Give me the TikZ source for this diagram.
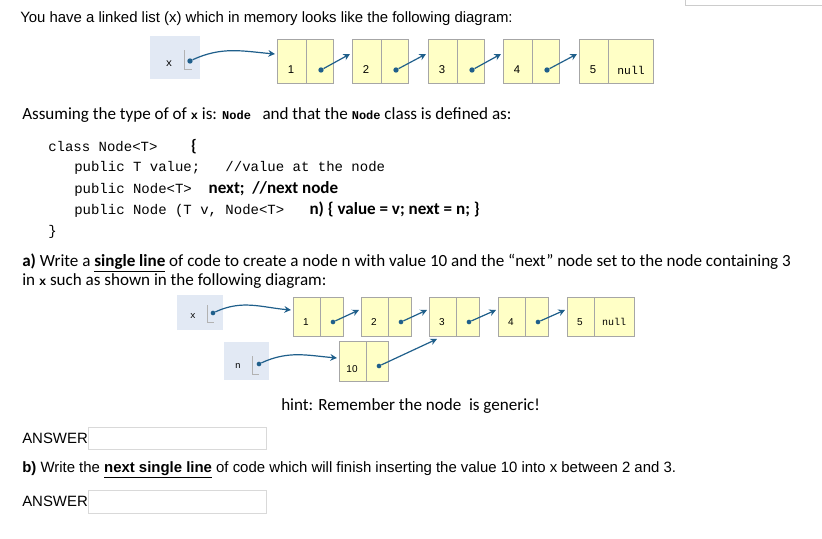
\documentclass[tikz,border=0pt]{standalone}
\usepackage{fontspec}
\setmainfont{Liberation Sans}
\newfontfamily\carl{Carlito}
\setmonofont{Liberation Mono}
\usetikzlibrary{arrows.meta}
\definecolor{cellY}{HTML}{FFFFC6}
\definecolor{varB}{HTML}{E2E9F4}
\definecolor{ptrB}{HTML}{1F5F8B}
\tikzset{
  txt/.style={anchor=west,inner sep=0pt,font=\fontsize{11.2}{13}\selectfont},
  ctxt/.style={anchor=west,inner sep=0pt,font=\carl\fontsize{12.8}{14}\selectfont},
  code/.style={anchor=west,inner sep=0pt,font=\ttfamily\fontsize{10.5}{12}\selectfont},
  cell/.style={fill=cellY,draw=gray!70,line width=0.5pt},
  varbox/.style={fill=varB,draw=none},
  ptr/.style={draw=ptrB,line width=0.9pt,-{Stealth[length=5pt,width=5pt]}},
  dotc/.style={circle,fill=ptrB,inner sep=0pt,minimum size=4pt},
  ansbox/.style={draw=gray!30,fill=white},
}
\begin{document}
\begin{tikzpicture}[x=0.75pt,y=-0.75pt]
\useasboundingbox (0,0) rectangle (822,539);
\fill[white] (0,0) rectangle (822,539);
\draw[gray!40] (685,-2) rectangle (822,5);
\node[txt] (t1) at (20,19) {You have a linked list (x) which in memory looks like the following diagram:};
% top diagram
\fill[varbox] (150,36) rectangle (200,79);
\node[font=\ttfamily\footnotesize] (xl) at (169,64) {x};
\draw[gray!60] (184,50) -- (184,69) -- (192,69);
\node[dotc] (xd) at (190,61) {};
\foreach \i/\x/\v in {1/277/1,2/352/2,3/428/3,4/503/4}{
  \draw[cell] (\x,39) rectangle (\x+56,83);
  \draw[gray!70] (\x+29,39) -- (\x+29,83);
  \node[font=\fontsize{8.5}{9}\selectfont] (v\i) at (\x+14,70) {\v};
  \node[dotc] (d\i) at (\x+44,70) {};
}
\draw[cell] (579,39) rectangle (653,83);
\draw[gray!70] (608,39) -- (608,83);
\node[font=\fontsize{8.5}{9}\selectfont] (v5) at (593,70) {5};
\node[font=\ttfamily\fontsize{8.5}{9}\selectfont] (n5) at (631,70) {null};
\coordinate (h1) at (275,54);
\coordinate (h2) at (350,54);
\coordinate (h3) at (426,54);
\coordinate (h4) at (501,54);
\coordinate (h5) at (577,54);
\draw[ptr] (xd) to[out=25,in=175] (h1);
\draw[ptr] (d1) -- (h2);
\draw[ptr] (d2) -- (h3);
\draw[ptr] (d3) -- (h4);
\draw[ptr] (d4) -- (h5);
% text
\node[ctxt] (t2) at (22,115) {Assuming the type of of \textbf{\ttfamily\small x} is: \textbf{\ttfamily\small Node}\ \ \ and that the \textbf{\ttfamily\small Node} class is defined as:};
\node[code] (c1) at (48,147) {class Node<T>\ \ \ \ {\carl\bfseries\fontsize{12.5}{13}\selectfont\{}};
\node[code] (c2) at (74,168) {public T value;\ \ \ //value at the node};
\node[code] (c3) at (74,189) {public Node<T>\ \ {\carl\bfseries\fontsize{12.8}{14}\selectfont next;\ \ //next node}};
\node[code] (c4) at (74,210) {public Node (T v, Node<T>\ \ \ {\carl\bfseries\fontsize{12.8}{14}\selectfont n) \{ value = v; next = n; \}}};
\node[code] (c5) at (48,232) {\}};
\node[ctxt] (t3) at (22,263) {\textbf{a)} Write a \textbf{\underline{single line}} of code to create a node n with value 10 and the “next” node set to the node containing 3};
\node[ctxt] (t4) at (22,281) {in \textbf{\ttfamily\small x} such as shown in the following diagram:};
% second diagram
\fill[varbox] (177,295) rectangle (223,330);
\node[font=\ttfamily\scriptsize] (xl2) at (193,316) {x};
\draw[gray!60] (207,305) -- (207,322) -- (214,322);
\node[dotc,minimum size=3.5pt] (xd2) at (213,313) {};
\foreach \i/\x/\v in {1/293/1,2/361/2,3/429/3,4/498/4}{
  \draw[cell] (\x,297) rectangle (\x+50,336);
  \draw[gray!70] (\x+27,297) -- (\x+27,336);
  \node[font=\fontsize{7.5}{8}\selectfont] (w\i) at (\x+13,322) {\v};
  \node[dotc,minimum size=3.5pt] (e\i) at (\x+40,322) {};
}
\draw[cell] (567,297) rectangle (634,336);
\draw[gray!70] (594,297) -- (594,336);
\node[font=\fontsize{7.5}{8}\selectfont] (w5) at (580,322) {5};
\node[font=\ttfamily\fontsize{7.5}{8}\selectfont] (m5) at (614,322) {null};
\fill[varbox] (224,342) rectangle (269,380);
\node[font=\ttfamily\scriptsize] (nl) at (238,366) {n};
\draw[gray!60] (252,356) -- (252,374) -- (259,374);
\node[dotc,minimum size=3.5pt] (nd) at (259,364) {};
\draw[cell] (339,341) rectangle (388,381);
\draw[gray!70] (366,341) -- (366,381);
\node[font=\fontsize{7.5}{8}\selectfont] (w10) at (352,369) {10};
\node[dotc,minimum size=3.5pt] (e10) at (379,366) {};
\coordinate (g1) at (291,310);
\coordinate (g2) at (359,310);
\coordinate (g3) at (427,310);
\coordinate (g4) at (496,310);
\coordinate (g5) at (565,310);
\coordinate (g10) at (337,358);
\coordinate (g3b) at (437,339);
\draw[ptr] (xd2) to[out=25,in=175] (g1);
\draw[ptr] (e1) -- (g2);
\draw[ptr] (e2) -- (g3);
\draw[ptr] (e3) -- (g4);
\draw[ptr] (e4) -- (g5);
\draw[ptr] (nd) to[out=25,in=175] (g10);
\draw[ptr] (e10) -- (g3b);
\node[ctxt] (hint) at (281,406) {hint: Remember the node\ \ is generic!};
\node[txt] (a1) at (22,438) {ANSWER:};
\draw[ansbox] (88,427) rectangle (266,449);
\node[txt] (t5) at (22,470) {\textbf{b)} Write the \textbf{\underline{next single line}} of code which will finish inserting the value 10 into x between 2 and 3.};
\node[txt] (a2) at (22,501) {ANSWER:};
\draw[ansbox] (88,490) rectangle (266,513);
\end{tikzpicture}
\end{document}
